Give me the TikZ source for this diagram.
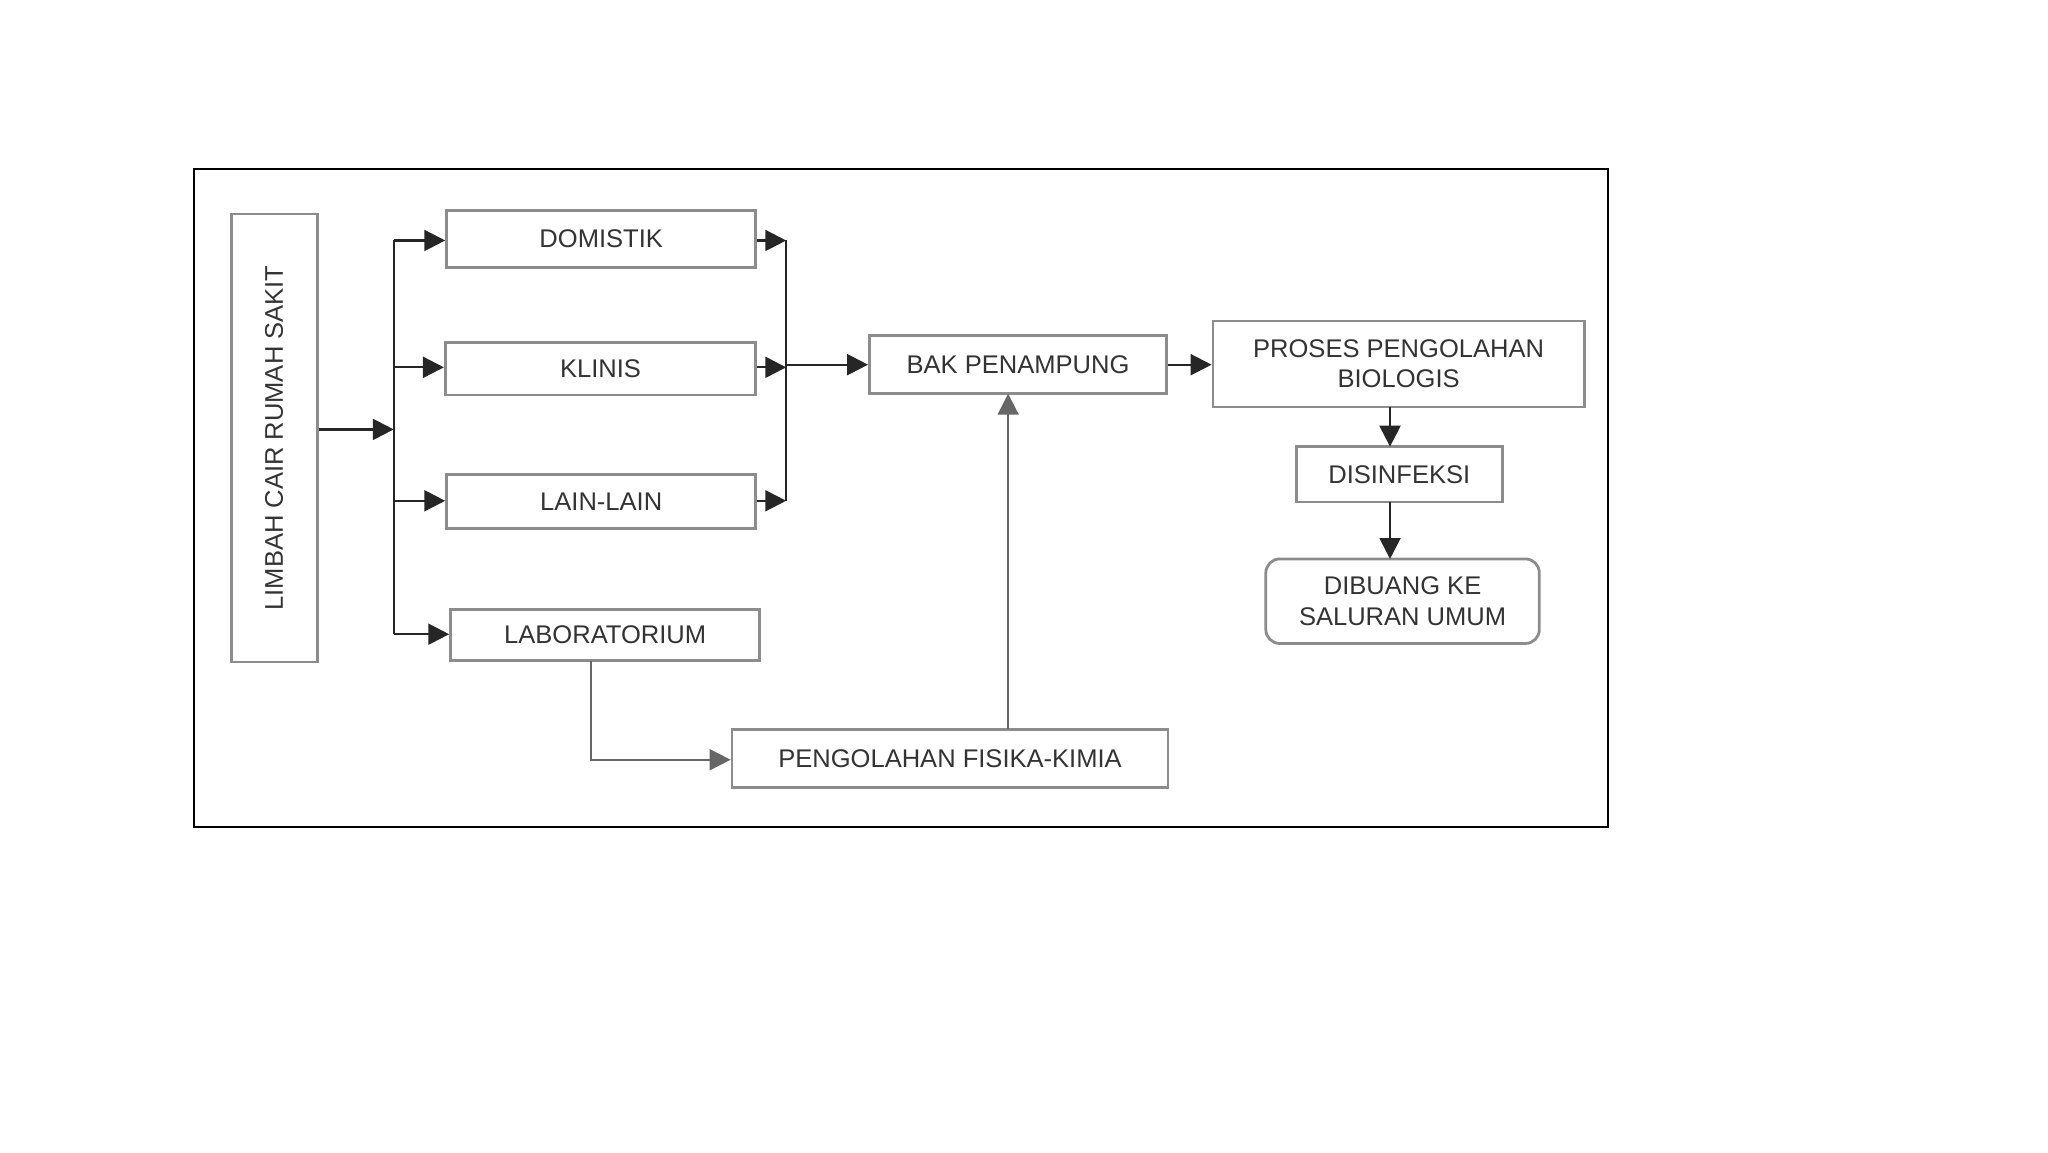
\documentclass[tikz,border=0pt]{standalone}
\usepackage{fontspec}
\setmainfont{Liberation Sans}
\usetikzlibrary{arrows.meta}
\begin{document}
\begin{tikzpicture}[x=0.02cm,y=-0.02cm,
  box/.style={draw=black!45,line width=1.2pt,fill=white,text=black!80,font=\fontsize{11}{13}\selectfont,align=center,inner sep=0pt},
  ar/.style={-{Triangle[length=9pt,width=9pt]},line width=1pt,black!85},
  th/.style={line width=0.8pt,black!60}]
\useasboundingbox (0,0) rectangle (1550,872);
\draw[line width=0.8pt] (147,128) rectangle (1217,626);
\node[box,minimum width=65*0.02cm,minimum height=339*0.02cm] (lim) at (207.5,331.5) {};
\node[rotate=90,text=black!80,font=\fontsize{11}{13}\selectfont] at (207.5,331.5) {LIMBAH CAIR RUMAH SAKIT};
\tikzset{bx/.style 2 args={box,minimum width=#1*0.02cm,minimum height=#2*0.02cm}}
\node[bx={234}{43}] (dom) at (455,181) {DOMISTIK};
\node[bx={235}{40}] (kli) at (454.5,279) {KLINIS};
\node[bx={234}{41}] (lain) at (455,379.5) {LAIN-LAIN};
\node[bx={234}{39}] (lab) at (458,480.5) {LABORATORIUM};
\node[bx={225}{44}] (bak) at (770.5,276) {BAK PENAMPUNG};
\node[bx={281}{65}] (pro) at (1058.5,275.5) {PROSES PENGOLAHAN\\BIOLOGIS};
\node[bx={156}{42}] (dis) at (1059,359) {DISINFEKSI};
\node[bx={207}{64},rounded corners=6pt] (dib) at (1061.5,455) {DIBUANG KE\\SALURAN UMUM};
\node[bx={330}{44}] (fis) at (719,574) {PENGOLAHAN FISIKA-KIMIA};
\coordinate (tl) at (298,182);
\coordinate (tb) at (298,480);
\coordinate (rt) at (595,182);
\coordinate (rb) at (595,379);
\draw[line width=1pt,black!85] (tl) -- (tb);
\draw[ar] (lim.east |- 0,325) -- (298,325);
\draw[ar] (tl) -- (dom.west |- tl);
\draw[ar] (298,278) -- (kli.west |- 0,278);
\draw[ar] (298,379) -- (lain.west |- 0,379);
\draw[ar] (tb) -- (lab.west |- tb);
\draw[line width=1pt,black!85] (rt) -- (rb);
\draw[ar] (dom.east |- rt) -- (rt);
\draw[ar] (kli.east |- 0,278) -- (595,278);
\draw[ar] (lain.east |- rb) -- (rb);
\draw[ar] (595,276) -- (bak.west);
\draw[ar] (bak.east) -- (pro.west |- bak.east);
\draw[ar] (1052,308) -- (1052,338);
\draw[ar] (1052,380) -- (1052,423);
\draw[th,-{Triangle[length=9pt,width=9pt]}] (447,500) -- (447,575) -- (fis.west |- 0,575);
\draw[th,-{Triangle[length=9pt,width=9pt]}] (763,552) -- (763,298);
\end{tikzpicture}
\end{document}
